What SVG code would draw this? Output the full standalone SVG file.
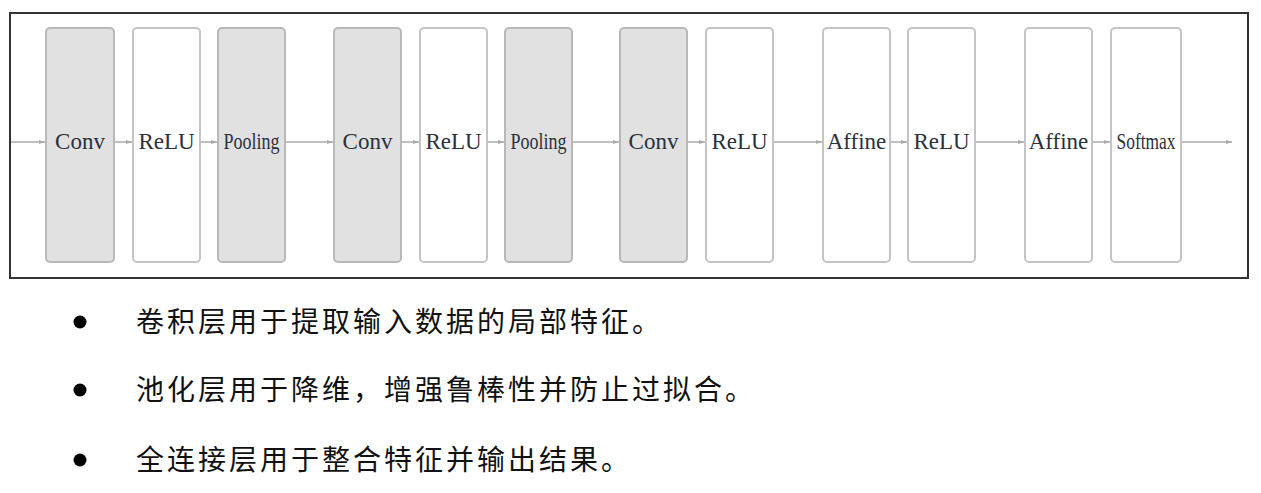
<svg xmlns="http://www.w3.org/2000/svg" width="1261" height="493" viewBox="0 0 1261 493">
<style>
.frame{fill:#fff;stroke:#333;stroke-width:2}
.g{fill:#e1e1e1;stroke:#b8b8b8;stroke-width:2}
.w{fill:#fff;stroke:#c4c4c4;stroke-width:2}
.lbl{font-family:"Liberation Serif","DejaVu Serif",serif;font-size:23px;fill:#2b313a;text-anchor:middle}
.con{stroke:#aaa;stroke-width:1.5;fill:none;marker-end:url(#ah)}
.cn{font-family:"Noto Sans CJK SC",sans-serif;font-size:28px;fill:#111;letter-spacing:3px}
</style>
<defs>
<marker id="ah" viewBox="0 0 10 10" refX="10" refY="5" markerWidth="6" markerHeight="6" markerUnits="userSpaceOnUse" orient="auto">
<path d="M0,1.5 L10,5 L0,8.5 z" fill="#aaa"/>
</marker>
</defs>
<rect class="frame" x="10" y="13" width="1238" height="265"/>
<g id="connectors">
<line class="con" x1="11" y1="142" x2="45" y2="142"/>
<line class="con" x1="114" y1="142" x2="132" y2="142"/>
<line class="con" x1="200" y1="142" x2="217" y2="142"/>
<line class="con" x1="285" y1="142" x2="333" y2="142"/>
<line class="con" x1="401" y1="142" x2="419" y2="142"/>
<line class="con" x1="487" y1="142" x2="504" y2="142"/>
<line class="con" x1="572" y1="142" x2="619" y2="142"/>
<line class="con" x1="687" y1="142" x2="705" y2="142"/>
<line class="con" x1="773" y1="142" x2="822" y2="142"/>
<line class="con" x1="890" y1="142" x2="907" y2="142"/>
<line class="con" x1="975" y1="142" x2="1024" y2="142"/>
<line class="con" x1="1092" y1="142" x2="1110" y2="142"/>
<line class="con" x1="1181" y1="142" x2="1232" y2="142"/>
</g>
<g id="n1"><rect class="g" x="46" y="28" width="68" height="234" rx="4"/><text class="lbl" x="80" y="149">Conv</text></g>
<g id="n2"><rect class="w" x="133" y="28" width="67" height="234" rx="4"/><text class="lbl" x="166.5" y="149">ReLU</text></g>
<g id="n3"><rect class="g" x="218" y="28" width="67" height="234" rx="4"/><text class="lbl" x="251.5" y="149" textLength="56" lengthAdjust="spacingAndGlyphs">Pooling</text></g>
<g id="n4"><rect class="g" x="334" y="28" width="67" height="234" rx="4"/><text class="lbl" x="367.5" y="149">Conv</text></g>
<g id="n5"><rect class="w" x="420" y="28" width="67" height="234" rx="4"/><text class="lbl" x="453.5" y="149">ReLU</text></g>
<g id="n6"><rect class="g" x="505" y="28" width="67" height="234" rx="4"/><text class="lbl" x="538.5" y="149" textLength="56" lengthAdjust="spacingAndGlyphs">Pooling</text></g>
<g id="n7"><rect class="g" x="620" y="28" width="67" height="234" rx="4"/><text class="lbl" x="653.5" y="149">Conv</text></g>
<g id="n8"><rect class="w" x="706" y="28" width="67" height="234" rx="4"/><text class="lbl" x="739.5" y="149">ReLU</text></g>
<g id="n9"><rect class="w" x="823" y="28" width="67" height="234" rx="4"/><text class="lbl" x="856.5" y="149">Affine</text></g>
<g id="n10"><rect class="w" x="908" y="28" width="67" height="234" rx="4"/><text class="lbl" x="941.5" y="149">ReLU</text></g>
<g id="n11"><rect class="w" x="1025" y="28" width="67" height="234" rx="4"/><text class="lbl" x="1058.5" y="149">Affine</text></g>
<g id="n12"><rect class="w" x="1111" y="28" width="70" height="234" rx="4"/><text class="lbl" x="1146" y="149" textLength="59" lengthAdjust="spacingAndGlyphs">Softmax</text></g>
<g id="bullets">
<circle cx="80" cy="322" r="6.5" fill="#000"/>
<circle cx="80" cy="390" r="6.5" fill="#000"/>
<circle cx="80" cy="460" r="6.5" fill="#000"/>
<text class="cn" x="136" y="332">卷积层用于提取输入数据的局部特征。</text>
<text class="cn" x="136" y="400">池化层用于降维，增强鲁棒性并防止过拟合。</text>
<text class="cn" x="136" y="470">全连接层用于整合特征并输出结果。</text>
</g>
</svg>
